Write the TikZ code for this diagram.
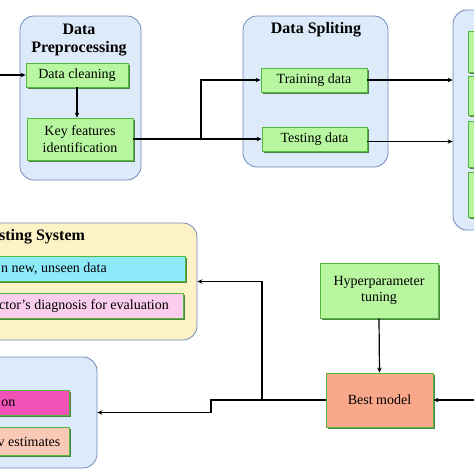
\documentclass[tikz,border=0pt]{standalone}
\usepackage{fontspec}
\setmainfont{Liberation Serif}
\usepackage{tikz}
\usetikzlibrary{arrows.meta, positioning, calc, shadows}
\definecolor{panelcolor}{RGB}{221,234,249}
\definecolor{panelline}{RGB}{112,136,184}
\definecolor{testcolor}{RGB}{253,241,198}
\definecolor{stepcolor}{RGB}{184,246,160}
\definecolor{stepline}{RGB}{84,184,62}
\definecolor{stepshade}{RGB}{62,118,52}
\definecolor{cyancolor}{RGB}{140,234,250}
\definecolor{pinkcolor}{RGB}{250,206,236}
\definecolor{magcolor}{RGB}{240,82,182}
\definecolor{peachcolor}{RGB}{250,202,182}
\definecolor{bestcolor}{RGB}{249,168,140}

\begin{document}
\begin{tikzpicture}[
    x=1pt, y=-1pt,
    font=\fontsize{14}{16.5}\selectfont,
    panel/.style={draw=panelline, thick, fill=panelcolor, rounded corners=14pt, inner sep=0pt},
    stepbox/.style={draw=stepline, thick, fill=stepcolor, align=center, inner sep=0pt,
        drop shadow={shadow xshift=2pt, shadow yshift=-2pt, fill=stepshade, opacity=0.9}},
    title/.style={font=\fontsize{16}{19}\selectfont\bfseries, align=center},
    arrow/.style={-{Stealth[length=5pt, width=4.5pt]}, line width=1.2pt},
    link/.style={line width=1.2pt}
]
    \useasboundingbox (0,0) rectangle (474,474);
    \clip (0,0) rectangle (474,474);

    % Data preprocessing
    \node[panel, minimum width=121pt, minimum height=164pt] (prep) at (80.5,98) {};
    \node[title] (preptitle) at (79,40) {Data\\[-1pt]Preprocessing};
    \node[stepbox, minimum width=102pt, minimum height=24pt] (clean) at (77,75) {Data cleaning};
    \node[stepbox, minimum width=106pt, minimum height=42pt] (keyfeat) at (80,139) {Key features\\identification};

    % Data splitting
    \node[panel, minimum width=145pt, minimum height=151pt] (split) at (315.5,91.5) {};
    \node[title] (splittitle) at (316,30) {Data Spliting};
    \node[stepbox, minimum width=106pt, minimum height=24pt] (train) at (314,80) {Training data};
    \node[stepbox, minimum width=105pt, minimum height=24pt] (test) at (314.5,139) {Testing data};

    % Models (cut at the right edge)
    \node[panel, minimum width=147pt, minimum height=220pt] (models) at (526.5,120) {};
    \node[stepbox, minimum width=132pt, minimum height=41pt] (m1) at (534,51.5) {};
    \node[stepbox, minimum width=132pt, minimum height=39pt] (m2) at (534,95.5) {};
    \node[stepbox, minimum width=132pt, minimum height=46pt] (m3) at (534,144) {};
    \node[stepbox, minimum width=132pt, minimum height=45pt] (m4) at (534,194.5) {};

    % Testing system (cut at the left edge)
    \node[panel, fill=testcolor, minimum width=297pt, minimum height=117pt] (testsys) at (48.5,281.5) {};
    \node[title, anchor=east] (testtitle) at (88.5,237) {esting System};
    \node[stepbox, fill=cyancolor, minimum width=335pt, minimum height=25pt] (unseen) at (17.5,268.5) {};
    \node[anchor=east, inner sep=0pt] (unseentext) at (107,269) {n new, unseen data};
    \node[stepbox, fill=pinkcolor, minimum width=333pt, minimum height=25pt] (diag) at (16.5,305.5) {};
    \node[anchor=east, inner sep=0pt] (diagtext) at (169,306) {ctor’s diagnosis for evaluation};

    % Results (cut at the left edge)
    \node[panel, minimum width=197pt, minimum height=111pt] (results) at (-1.5,412.5) {};
    \node[stepbox, fill=magcolor, minimum width=209pt, minimum height=25pt] (res1) at (-35.5,402.5) {};
    \node[anchor=east, inner sep=0pt] (res1text) at (15.5,403) {on};
    \node[stepbox, fill=peachcolor, minimum width=209pt, minimum height=28pt] (res2) at (-35.5,441) {};
    \node[anchor=east, inner sep=0pt] (res2text) at (60.5,441.5) {v estimates};

    % Tuning and best model
    \node[stepbox, minimum width=118pt, minimum height=55pt] (hyper) at (379,290.5) {Hyperparameter\\tuning};
    \node[stepbox, fill=bestcolor, minimum width=107pt, minimum height=54pt] (best) at (379.5,400) {Best model};

    % Junctions
    \coordinate (in) at (0,75);
    \coordinate (fork) at (201,139);
    \coordinate (rin) at (474,400);
    \coordinate (back) at (262,400);
    \coordinate (step) at (211,400);

    % Connections
    \draw[arrow] (in) -- (clean.west);
    \draw[arrow] (clean.south) -- (clean.south |- keyfeat.north);
    \draw[link] (keyfeat.east) -- (fork);
    \draw[arrow] (fork) |- (train.west);
    \draw[arrow] (fork) -- (test.west);
    \draw[arrow] (train.east) -- (train.east -| models.west);
    \draw[arrow] ($(test.east)+(0,2.5)$) -- ($(test.east -| models.west)+(0,2.5)$);
    \draw[arrow] (hyper.south) -- (best.north);
    \draw[arrow] (rin) -- (best.east);
    \draw[link] (best.west) -- (back);
    \draw[arrow] (back) |- (testsys.east);
    \draw[arrow] (back) -- (step) |- (results.east);
\end{tikzpicture}
\end{document}
